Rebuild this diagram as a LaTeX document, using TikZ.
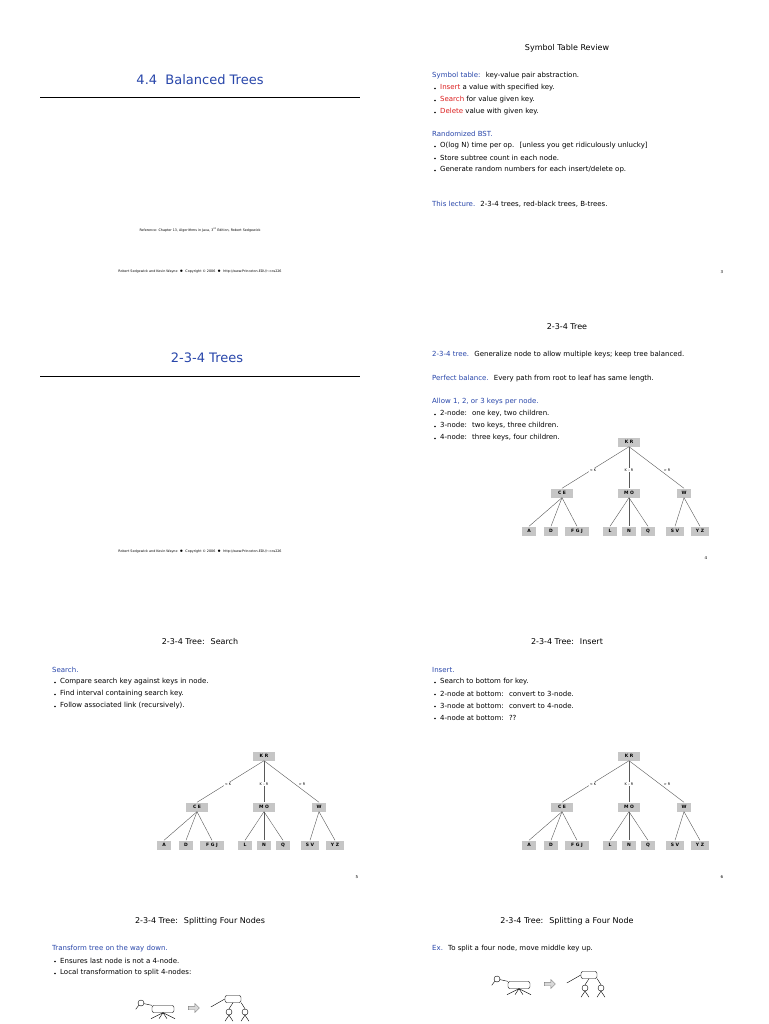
\documentclass[tikz,border=0pt]{standalone}
\usepackage{fontspec}
\setmainfont{DejaVu Sans}
\usetikzlibrary{shapes.arrows}
\definecolor{hblue}{RGB}{40,70,170}
\definecolor{hred}{RGB}{220,30,30}
\newcommand\HB[1]{\textcolor{hblue}{#1}}
\newcommand\HR[1]{\textcolor{hred}{#1}}
\newcommand\kstree[3]{%
\begin{scope}[shift={(#2,#3)}]
\node[tnode,minimum width=22] (#1r) at (629,442) {K R};
\node[tnode,minimum width=22] (#1ce) at (562,493) {C E};
\node[tnode,minimum width=22] (#1mo) at (629,493) {M O};
\node[tnode] (#1w) at (684,493) {W};
\node[tnode] (#1a) at (529,531) {A};
\node[tnode] (#1d) at (551,531) {D};
\node[tnode,minimum width=24] (#1f) at (577,531) {F G J};
\node[tnode] (#1l) at (610,531) {L};
\node[tnode] (#1n) at (629,531) {N};
\node[tnode] (#1q) at (648,531) {Q};
\node[tnode,minimum width=18] (#1s) at (675,531) {S V};
\node[tnode,minimum width=18] (#1y) at (700,531) {Y Z};
\draw[tedge] (#1r.south) -- (#1ce.north);
\draw[tedge] (#1r.south) -- (#1mo.north);
\draw[tedge] (#1r.south) -- (#1w.north);
\foreach \c in {a,d,f}{\draw[tedge] (#1ce.south) -- (#1\c.north);}
\foreach \c in {l,n,q}{\draw[tedge] (#1mo.south) -- (#1\c.north);}
\foreach \c in {s,y}{\draw[tedge] (#1w.south) -- (#1\c.north);}
\node[tlab,fill=white] (#1l1) at (593,470) {< K};
\node[tlab,fill=white] (#1l2) at (629,470) {K -- R};
\node[tlab,fill=white] (#1l3) at (667,470) {> R};
\end{scope}}
\newcommand\fourdraw[3]{%
\begin{scope}[shift={(#2,#3)}]
\node[sc] (#1c) at (0,0) {};
\node[sr] (#1b) at (22,6) {};
\draw[sl] (#1c.south west) -- ++(-3,4);
\draw[sl] (#1c) -- (#1b.north west);
\draw[sl] (#1b.south) -- ++(-12,6); \draw[sl] (#1b.south) -- ++(-4,6);
\draw[sl] (#1b.south) -- ++(4,6); \draw[sl] (#1b.south) -- ++(12,6);
\node[single arrow,draw=gray,fill=gray!30,minimum height=11,minimum width=9,single arrow head extend=2,inner sep=1] (#1ar) at (52,5) {};
\node[sr,minimum width=16] (#1t) at (92,-4) {};
\node[sc] (#1u) at (88,9) {};
\node[sc] (#1v) at (104,9) {};
\draw[sl] (#1t.west) -- ++(-14,8);
\draw[sl] (#1t.south) -- (#1u.north);
\draw[sl] (#1t.south east) -- (#1v.north);
\draw[sl] (#1u.south) -- ++(-4,6); \draw[sl] (#1u.south) -- ++(4,6);
\draw[sl] (#1v.south) -- ++(-4,6); \draw[sl] (#1v.south) -- ++(4,6);
\end{scope}}
\begin{document}
\begin{tikzpicture}[x=1pt,y=-1pt,
 tnode/.style={fill=gray!45,minimum width=14,minimum height=9,inner sep=0,font=\fontsize{4.5}{5}\selectfont\bfseries},
 tedge/.style={gray!70!black,line width=0.4},
 tlab/.style={font=\fontsize{3.5}{4}\selectfont,inner sep=0.5},
 body/.style={anchor=west,inner sep=0,font=\fontsize{7}{8}\selectfont},
 sub/.style={body,xshift=8},
 ttl/.style={font=\fontsize{8}{9}\selectfont,inner sep=0},
 big/.style={font=\fontsize{13}{15}\selectfont,text=hblue,inner sep=0},
 foot/.style={font=\fontsize{3.3}{4}\selectfont,inner sep=0},
 pn/.style={font=\fontsize{4}{5}\selectfont,inner sep=0},
 sc/.style={circle,draw,inner sep=0,minimum size=6,line width=0.4},
 sr/.style={rounded corners=2,draw,minimum width=22,minimum height=7,inner sep=0,line width=0.4},
 sl/.style={line width=0.4}]
\useasboundingbox (0,0) rectangle (768,1024);
\fill[white] (0,0) rectangle (768,1024);
% Page 1
\node[big] (t1) at (200,80) {4.4 \ Balanced Trees};
\draw[line width=0.5] (40,97) -- (360,97);
\node[foot] (ref1) at (200,230) {Reference: Chapter 13, Algorithms in Java, 3\textsuperscript{rd} Edition, Robert Sedgewick};
\node[foot] (f1) at (200,272) {Robert Sedgewick and Kevin Wayne \ $\bullet$ \ Copyright \textcopyright{} 2006 \ $\bullet$ \ http://www.Princeton.EDU/\textasciitilde cos226};
% Page 2
\node[ttl] (t2) at (567,48) {Symbol Table Review};
\node[body] (p2a) at (432,76) {\HB{Symbol table:} \ key-value pair abstraction.};
\node[sub] (p2b) at (432,88) {\HR{Insert} a value with specified key.};
\node[sub] (p2c) at (432,100) {\HR{Search} for value given key.};
\node[sub] (p2d) at (432,112) {\HR{Delete} value with given key.};
\node[body] (p2e) at (432,134) {\HB{Randomized BST.}};
\node[sub] (p2f) at (432,146) {O(log N) time per op. \ [unless you get ridiculously unlucky]};
\node[sub] (p2g) at (432,158) {Store subtree count in each node.};
\node[sub] (p2h) at (432,170) {Generate random numbers for each insert/delete op.};
\node[body] (p2i) at (432,204) {\HB{This lecture.} \ 2-3-4 trees, red-black trees, B-trees.};
\node[pn] (n3) at (722,272) {3};
% Page 3
\node[big] (t3) at (207,358) {2-3-4 Trees};
\draw[line width=0.5] (40,376) -- (360,376);
\node[foot] (f3) at (200,552) {Robert Sedgewick and Kevin Wayne \ $\bullet$ \ Copyright \textcopyright{} 2006 \ $\bullet$ \ http://www.Princeton.EDU/\textasciitilde cos226};
% Page 4
\node[ttl] (t4) at (567,327) {2-3-4 Tree};
\node[body] (p4a) at (432,355) {\HB{2-3-4 tree.} \ Generalize node to allow multiple keys; keep tree balanced.};
\node[body] (p4b) at (432,379) {\HB{Perfect balance.} \ Every path from root to leaf has same length.};
\node[body] (p4c) at (432,402) {\HB{Allow 1, 2, or 3 keys per node.}};
\node[sub] (p4d) at (432,414) {2-node: \ one key, two children.};
\node[sub] (p4e) at (432,426) {3-node: \ two keys, three children.};
\node[sub] (p4f) at (432,438) {4-node: \ three keys, four children.};
\node[pn] (n4) at (706,558) {4};
\kstree{a}{0}{0}
% Page 5
\node[ttl] (t5) at (200,642) {2-3-4 Tree: \ Search};
\node[body] (p5a) at (52,670) {\HB{Search.}};
\node[sub] (p5b) at (52,682) {Compare search key against keys in node.};
\node[sub] (p5c) at (52,694) {Find interval containing search key.};
\node[sub] (p5d) at (52,706) {Follow associated link (recursively).};
\kstree{b}{-365}{314}
\node[pn] (n5) at (357,877) {5};
% Page 6
\node[ttl] (t6) at (567,642) {2-3-4 Tree: \ Insert};
\node[body] (p6a) at (432,670) {\HB{Insert.}};
\node[sub] (p6b) at (432,682) {Search to bottom for key.};
\node[sub] (p6c) at (432,694) {2-node at bottom: \ convert to 3-node.};
\node[sub] (p6d) at (432,706) {3-node at bottom: \ convert to 4-node.};
\node[sub] (p6e) at (432,718) {4-node at bottom: \ ??};
\kstree{c}{0}{314}
\node[pn] (n6) at (722,877) {6};
% Page 7
\node[ttl] (t7) at (200,921) {2-3-4 Tree: \ Splitting Four Nodes};
\node[body] (p7a) at (52,949) {\HB{Transform tree on the way down.}};
\node[sub] (p7b) at (52,961) {Ensures last node is not a 4-node.};
\node[sub] (p7c) at (52,973) {Local transformation to split 4-nodes:};
\fourdraw{d}{141}{1003}
% Page 8
\node[ttl] (t8) at (567,921) {2-3-4 Tree: \ Splitting a Four Node};
\node[body] (p8a) at (432,949) {\HB{Ex.} \ To split a four node, move middle key up.};
\fourdraw{e}{497}{979}
% bullets
\foreach \y in {88,100,112,146,158,170,414,426,438,682,694,706,718}{\fill (435,\y+0.5) circle (0.9);}
\foreach \y in {682,694,706,961,973}{\fill (55,\y+0.5) circle (0.9);}
\end{tikzpicture}
\end{document}
